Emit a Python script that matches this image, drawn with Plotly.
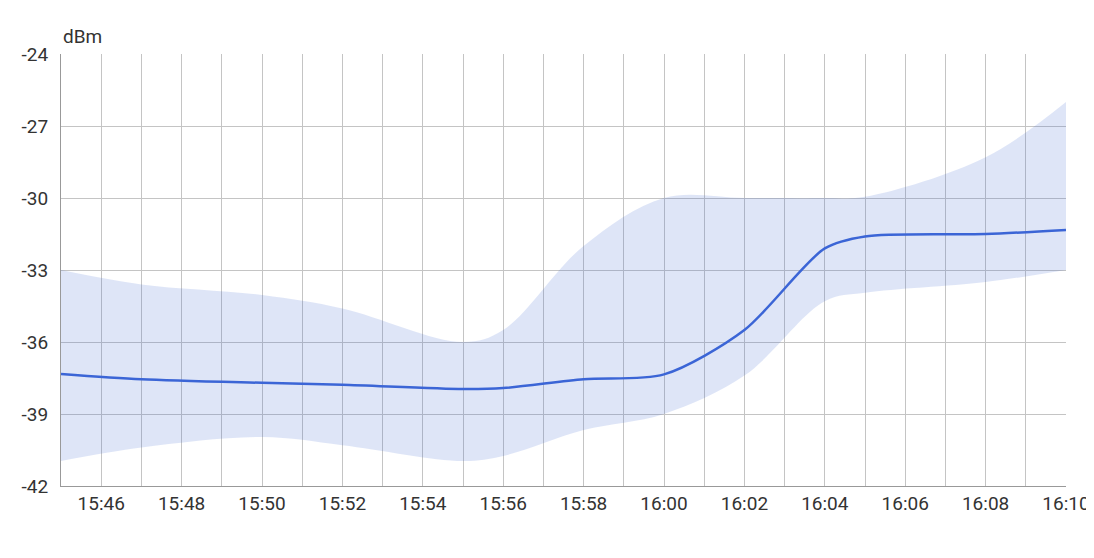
import plotly.graph_objects as go

times = ["2024-01-01 15:45","2024-01-01 15:47","2024-01-01 15:50","2024-01-01 15:52","2024-01-01 15:55","2024-01-01 15:56","2024-01-01 15:58","2024-01-01 16:00","2024-01-01 16:02","2024-01-01 16:04","2024-01-01 16:05","2024-01-01 16:08","2024-01-01 16:10"]
mean  = [-37.33,-37.55,-37.7,-37.78,-37.96,-37.92,-37.55,-37.35,-35.5,-32.1,-31.6,-31.5,-31.33]
upper = [-33.0,-33.6,-34.04,-34.6,-36.0,-35.5,-32.0,-30.0,-30.0,-30.0,-29.95,-28.3,-26.0]
lower = [-40.96,-40.4,-39.96,-40.3,-40.96,-40.75,-39.67,-39.0,-37.4,-34.3,-33.95,-33.5,-33.0]
y_ticks = [-42, -39, -36, -33, -30, -27, -24]
y_labels = ["-42", "-39", "-36", "-33", "-30", "-27", "-24"]

fig = go.Figure()
fig.add_trace(go.Scatter(x=times, y=lower, mode="lines", line=dict(width=0, shape="spline"), showlegend=False, hoverinfo="skip"))
fig.add_trace(go.Scatter(x=times, y=upper, mode="lines", line=dict(width=0, shape="spline"), fill="tonexty",
                         fillcolor="rgba(60,100,210,0.17)", showlegend=False, hoverinfo="skip"))
fig.add_trace(go.Scatter(x=times, y=mean, mode="lines", line=dict(color="#3b65d6", width=2.5, shape="spline", smoothing=0.8), showlegend=False))

fig.update_layout(
    width=1094, height=558, margin=dict(l=53, r=31, t=46, b=80),
    plot_bgcolor="white", paper_bgcolor="white",
    font=dict(family="Roboto", size=19, color="#333"),
    xaxis=dict(range=["2024-01-01 15:45","2024-01-01 16:10"], tickformat="%H:%M", dtick=120000,
               tick0="2024-01-01 15:46", showgrid=True, gridcolor="#c4c4c4", showline=True, linecolor="#999",
               minor=dict(dtick=60000, showgrid=True, gridcolor="#c4c4c4"), ticks="", zeroline=False),
    yaxis=dict(range=[-42,-24], tickvals=y_ticks, ticktext=y_labels, showgrid=True, gridcolor="#c4c4c4",
               showline=True, linecolor="#999", zeroline=False, ticks="", ticklabelstandoff=8),
    annotations=[dict(text="dBm", x=0, y=1, xref="paper", yref="paper", xanchor="left", yanchor="bottom",
                      yshift=4, showarrow=False, font=dict(size=19, color="#333"))],
)
fig.write_html("out.html")
